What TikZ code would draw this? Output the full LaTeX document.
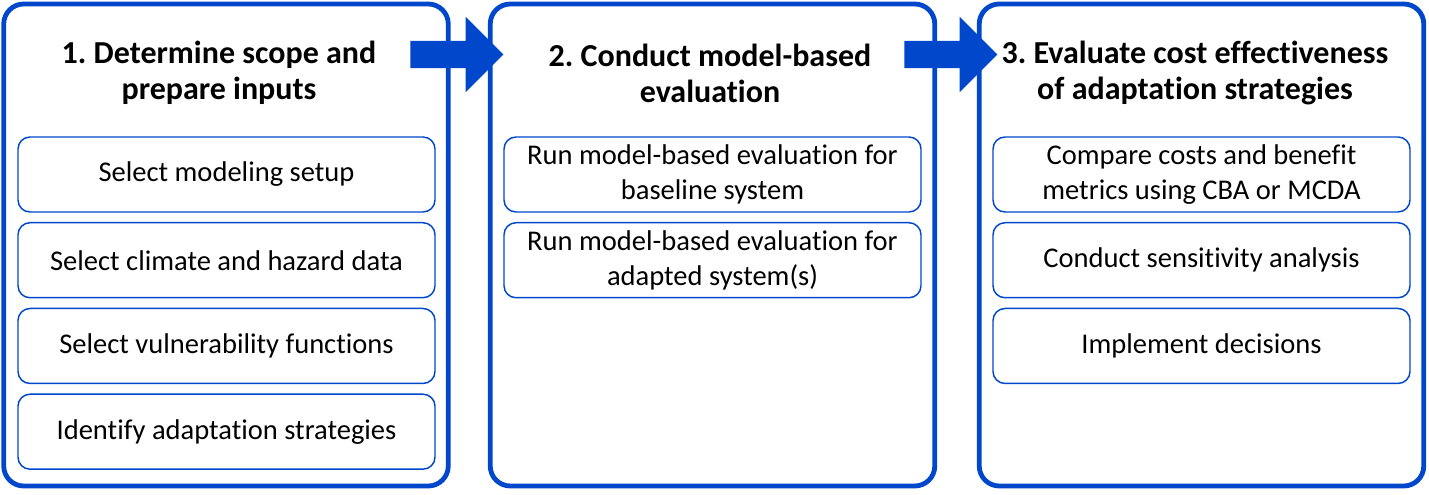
\documentclass[tikz,border=0pt]{standalone}
\usepackage{fontspec}
\setmainfont{Carlito}[Ligatures=NoCommon]
\frenchspacing
\usetikzlibrary{shapes.arrows}
\definecolor{stepblue}{HTML}{0047CC}

\begin{document}
\begin{tikzpicture}
[x=0.75pt,y=-0.75pt,node distance=64.3pt,line join=round]

  \tikzstyle{panel}=[draw=stepblue,line width=3.6pt,rounded corners=15pt,minimum width=333.4pt,minimum height=361.5pt,inner sep=0pt]
  \tikzstyle{heading}=[align=center,font=\fontsize{24}{27}\selectfont\bfseries]
  \tikzstyle{task}=[draw=stepblue,line width=1.1pt,rounded corners=9pt,minimum width=312.75pt,minimum height=56.25pt,align=center,inner sep=0pt,font=\fontsize{21.4}{26.25}\selectfont]
  \tikzstyle{flow}=[single arrow,fill=stepblue,inner xsep=0pt,inner ysep=10.1pt,single arrow head extend=18pt,single arrow head indent=0pt,minimum height=69.75pt]

  \useasboundingbox (0,0) rectangle (1429,495);

  % panels
  \node[panel] (P1) at (226,245)    {};
  \node[panel] (P2) at (712.5,245)  {};
  \node[panel] (P3) at (1201.5,245) {};

  \node[heading] (H1) at (219,73)  {1. Determine scope and\\prepare inputs};
  \node[heading] (H2) at (710,73)  {2. Conduct model-based\\evaluation};
  \node[heading] (H3) at (1195,73) {3. Evaluate cost effectiveness\\of adaptation strategies};

  % step 1
  \node[task] (A1) at (226.5,174.5) {Select modeling setup};
  \node[task]      (A2) [below of=A1] {Select climate and hazard data};
  \node[task]      (A3) [below of=A2] {Select vulnerability functions};
  \node[task]      (A4) [below of=A3] {Identify adaptation strategies};

  % step 2
  \node[task] (B1) at (712.5,174.5) {Run model-based evaluation for\\baseline system};
  \node[task]      (B2) [below of=B1] {Run model-based evaluation for\\adapted system(s)};

  % step 3
  \node[task] (C1) at (1201.5,174.5) {Compare costs and benefit\\metrics using CBA or MCDA};
  \node[task]      (C2) [below of=C1] {Conduct sensitivity analysis};
  \node[task]      (C3) [below of=C2] {Implement decisions};

  % arrows between the steps
  \node[flow] (F12) at (450,54.5) {};
  \node[flow] (F23) at (944,54.5) {};
\end{tikzpicture}
\end{document}
